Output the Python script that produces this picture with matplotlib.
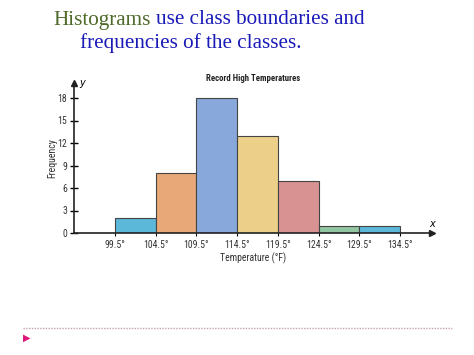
import numpy as np
import matplotlib.pyplot as plt
from matplotlib import font_manager

# données du graphique
bornes = [99.5, 104.5, 109.5, 114.5, 119.5, 124.5, 129.5, 134.5]
frequences = [2, 8, 18, 13, 7, 1, 1]
couleurs = ['#5cb8d8', '#e8a878', '#88a8dc', '#ecd08a', '#d99292', '#92c6a2', '#5cb8d8']
yticks = [0, 3, 6, 9, 12, 15, 18]
etiquettes_x = [f'{b}°' for b in bornes]

# police étroite si elle existe
noms = set(f.name for f in font_manager.fontManager.ttflist)
etroite = None
for n in ['Liberation Sans Narrow', 'Roboto Condensed', 'Open Sans Condensed', 'DejaVu Sans Condensed']:
    if n in noms:
        etroite = n
        break
if etroite is None:
    fnt = ['Liberation Sans', 'DejaVu Sans']
    fs = 6.3
else:
    fnt = [etroite, 'DejaVu Sans']
    fs = 7

W, H = 474, 355
fig = plt.figure(figsize=(W/100, H/100), dpi=100)

# titre de la diapositive
fig.text(53/W, 1-20/H, 'Histograms', color='#4f6a2a', family='Liberation Serif',
         fontsize=15.2, va='center')
fig.text(156/W, 1-20/H, 'use class boundaries and', color='#1a1ab8', family='Liberation Serif',
         fontsize=15.2, va='center')
fig.text(80/W, 1-43/H, 'frequencies of the classes.', color='#1a1ab8', family='Liberation Serif',
         fontsize=15.2, va='center')

# axes du graphique
x0, x1 = 74, 432
y0, y1 = 233, 83
ax = fig.add_axes([x0/W, 1-y0/H, (x1-x0)/W, (y0-y1)/H])
ax.bar(bornes[:-1], frequences, width=5, align='edge', color=couleurs,
       edgecolor='#444444', linewidth=0.8, zorder=2)
ax.set_xlim(94.5, 138.4)
ax.set_ylim(0, 20)

for s in ['top', 'right']:
    ax.spines[s].set_visible(False)
for s in ['left', 'bottom']:
    ax.spines[s].set_linewidth(1.2)
    ax.spines[s].set_color('#222222')
ax.plot(1, 0, '>', color='#222222', markersize=4, transform=ax.transAxes, clip_on=False)
ax.plot(0, 1, '^', color='#222222', markersize=4, transform=ax.transAxes, clip_on=False)

ax.set_yticks(yticks)
ax.set_yticklabels([str(v) for v in yticks], family=fnt, fontsize=fs, color='#333333')
ax.set_xticks(bornes)
ax.set_xticklabels(etiquettes_x, family=fnt, fontsize=fs, color='#333333')
ax.tick_params(axis='y', direction='inout', length=6, width=1, pad=2)
ax.tick_params(axis='x', direction='out', length=2, width=0.8, pad=3)

ax.set_xlabel('Temperature (°F)', family=fnt, fontsize=fs, color='#333333', labelpad=2)
ax.set_ylabel('Frequency', family=fnt, fontsize=fs, color='#333333', labelpad=0)
ax.set_title('Record High Temperatures', family=fnt, fontsize=fs*0.9, fontweight='bold',
             color='#222222', pad=0)
ax.text(1.0, 0.04, 'x', transform=ax.transAxes, fontsize=7, style='italic', ha='center')
ax.text(0.015, 1.0, 'y', transform=ax.transAxes, fontsize=7, style='italic', ha='left', va='center')

# ligne pointillée et triangle du bas de la diapositive
fig.add_artist(plt.Line2D([23/W, 452/W], [1-328/H, 1-328/H], color='#c8a0b0',
                          linestyle=(0, (1, 1)), linewidth=1))
fig.text(23/W, 1-338/H, '▶', color='#e0157a', fontsize=7, va='center')

fig.savefig('out.png', dpi=100)
